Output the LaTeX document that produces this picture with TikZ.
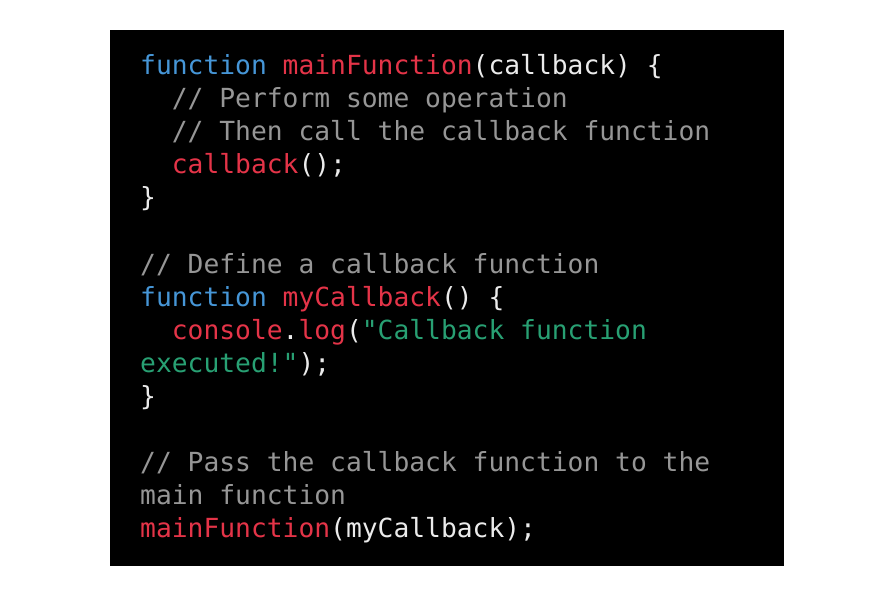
\documentclass[tikz,border=0pt]{standalone}
\usepackage{fontspec}
\setmonofont{DejaVu Sans Mono}
\usetikzlibrary{positioning}
\definecolor{kwblue}{RGB}{70,150,215}
\definecolor{fnred}{RGB}{228,52,72}
\definecolor{strgreen}{RGB}{40,160,115}
\definecolor{cmtgray}{RGB}{150,150,150}
\definecolor{plain}{RGB}{235,235,235}
\newcommand{\kw}[1]{\textcolor{kwblue}{#1}}
\newcommand{\fn}[1]{\textcolor{fnred}{#1}}
\newcommand{\str}[1]{\textcolor{strgreen}{#1}}
\newcommand{\cmt}[1]{\textcolor{cmtgray}{#1}}

\begin{document}
\begin{tikzpicture}[x=1pt,y=1pt]
\tikzset{
  codeline/.style={anchor=base west, inner sep=0pt, text=plain,
    font=\ttfamily\fontsize{26.3}{33}\selectfont}
}

\useasboundingbox (0,0) rectangle (894,-596);
\fill[black] (110,-30) rectangle (784,-566);

\node[codeline] (l1) at (140,-75) {\kw{function} \fn{mainFunction}(callback) \{};
\node[codeline] (l2) at (140,-108) {\ \ \cmt{// Perform some operation}};
\node[codeline] (l3) at (140,-141) {\ \ \cmt{// Then call the callback function}};
\node[codeline] (l4) at (140,-174) {\ \ \fn{callback}();};
\node[codeline] (l5) at (140,-207) {\}};
\node[codeline] (l7) at (140,-273) {\cmt{// Define a callback function}};
\node[codeline] (l8) at (140,-306) {\kw{function} \fn{myCallback}() \{};
\node[codeline] (l9) at (140,-339) {\ \ \fn{console}.\fn{log}(\str{"Callback function}};
\node[codeline] (l10) at (140,-372) {\str{executed!"});};
\node[codeline] (l11) at (140,-405) {\}};
\node[codeline] (l13) at (140,-471) {\cmt{// Pass the callback function to the}};
\node[codeline] (l14) at (140,-504) {\cmt{main function}};
\node[codeline] (l15) at (140,-537) {\fn{mainFunction}(myCallback);};
\end{tikzpicture}
\end{document}
